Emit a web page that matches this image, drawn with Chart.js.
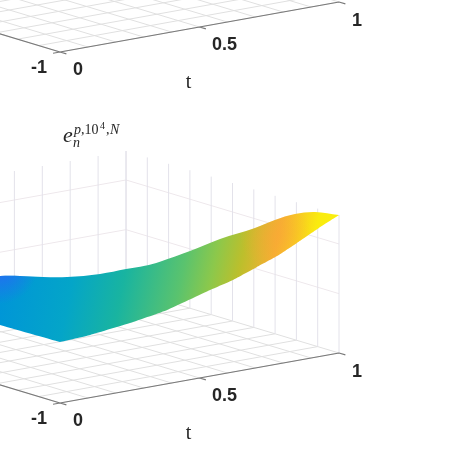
<!DOCTYPE html>
<html>
<head>
<meta charset="utf-8">
<style>
  html, body { margin: 0; padding: 0; background: #fff; }
  canvas { display: block; }
</style>
<script src="https://cdn.jsdelivr.net/npm/chart.js@4/dist/chart.umd.min.js"></script>
</head>
<body>
<canvas id="surfaceChart" width="474" height="474"></canvas>
<script>
// axis grids
const tGrid = [0, 0.1, 0.2, 0.3, 0.4, 0.5, 0.6, 0.7, 0.8, 0.9, 1];
const xGrid = [-1, -0.8, -0.6, -0.4, -0.2, 0, 0.2, 0.4, 0.6, 0.8, 1];
const zGrid = [0.43, 0.79];
const tTickValues = [0, 0.5, 1];
const tTickLabels = ['0', '0.5', '1'];
const xTickValues = [-1];
const xTickLabels = ['-1'];

// surface edges (z as a fraction of the box height)
const startX = [0.1, -0.437, -1];        // t = 0
const startZ = [0.44, 0.435, 0.442];
const frontT = [0, 0.108, 0.262, 0.384, 0.538, 0.62, 0.706, 0.778, 0.849, 0.928, 1]; // x = -1
const frontZ = [0.442, 0.454, 0.492, 0.535, 0.624, 0.667, 0.73, 0.783, 0.852, 0.932, 1];
const sideT = [0.4, 0.548, 0.62, 0.703, 0.789, 0.907, 1];   // x = 1
const sideZ = [0.3, 0.258, 0.232, 0.194, 0.163, 0.143, 0.145];
const endX = [1, 0.822, 0.681, 0.399, 0.117, -0.211, -0.399, -0.587, -0.775, -1];  // t = 1
const endZ = [0.145, 0.21, 0.272, 0.414, 0.567, 0.723, 0.825, 0.912, 0.97, 1];

const panelShift = -351; // upper panel sits above this one, only its floor shows

function project(t, x, z, shift) {
  const s = (x + 1) / 2;
  return {
    x: 60 + 279 * t - 213 * s,
    y: 403 + (shift || 0) - 50 * t - 64 * s - 138 * z
  };
}

function segments(pairs) {
  const out = [];
  pairs.forEach(p => {
    out.push(p[0], p[1], { x: NaN, y: NaN });
  });
  return out;
}

function floorLines(shift) {
  const pairs = [];
  tGrid.forEach(t => pairs.push([project(t, -1, 0, shift), project(t, 1, 0, shift)]));
  xGrid.forEach(x => pairs.push([project(0, x, 0, shift), project(1, x, 0, shift)]));
  return segments(pairs);
}

function wallVerticals() {
  const pairs = [];
  tGrid.forEach(t => pairs.push([project(t, 1, 0), project(t, 1, 1)]));
  xGrid.forEach(x => pairs.push([project(1, x, 0), project(1, x, 1)]));
  return segments(pairs);
}

function wallLevels() {
  const pairs = [];
  zGrid.forEach(z => {
    pairs.push([project(0, 1, z), project(1, 1, z)]);
    pairs.push([project(1, 1, z), project(1, -1, z)]);
  });
  return segments(pairs);
}

function axisLines(shift) {
  const pairs = [
    [project(0, -1, 0, shift), project(1, -1, 0, shift)],
    [project(0, -1, 0, shift), project(0, 1, 0, shift)]
  ];
  tTickValues.forEach(t => pairs.push([project(t, -1, 0, shift), project(t, -1.06, 0, shift)]));
  xTickValues.forEach(x => pairs.push([project(0, x, 0, shift), project(-0.025, x, 0, shift)]));
  return segments(pairs);
}

const lowerEdge = startX.map((x, i) => project(0, x, startZ[i]))
  .concat(frontT.map((t, i) => project(t, -1, frontZ[i])));
const upperEdge = sideT.map((t, i) => project(t, 1, sideZ[i]))
  .concat(endX.map((x, i) => project(1, x, endZ[i])));

const canvas = document.getElementById('surfaceChart');
const ctx = canvas.getContext('2d');

const surfaceFill = ctx.createLinearGradient(-20, 255, 345, 330);
surfaceFill.addColorStop(0, '#0a92dc');
surfaceFill.addColorStop(0.08, '#0096d7');
surfaceFill.addColorStop(0.257, '#04a5c8');
surfaceFill.addColorStop(0.392, '#19b4a0');
surfaceFill.addColorStop(0.542, '#5ac36e');
surfaceFill.addColorStop(0.62, '#8cc84b');
surfaceFill.addColorStop(0.69, '#bcbf2c');
surfaceFill.addColorStop(0.773, '#f5b032');
surfaceFill.addColorStop(0.87, '#faeb0f');
surfaceFill.addColorStop(1, '#fbf50a');

// orange patch on the right, blue rim at the far left
const glowFill = ctx.createRadialGradient(276, 236, 3, 276, 236, 36);
glowFill.addColorStop(0, 'rgba(252,165,55,0.5)');
glowFill.addColorStop(1, 'rgba(252,165,55,0)');

const rimFill = ctx.createRadialGradient(0, 266, 4, 0, 266, 38);
rimFill.addColorStop(0, 'rgba(40,105,245,0.9)');
rimFill.addColorStop(1, 'rgba(40,105,245,0)');

const labelPlugin = {
  id: 'labels',
  afterDraw(chart) {
    const c = chart.ctx;
    const sx = chart.scales.x;
    const sy = chart.scales.y;
    const text = (str, x, y, font, align) => {
      c.font = font;
      c.textAlign = align || 'center';
      c.textBaseline = 'alphabetic';
      c.fillStyle = '#262626';
      c.fillText(str, sx.getPixelForValue(x), sy.getPixelForValue(y));
    };
    const tickFont = 'bold 18px "Liberation Sans"';
    const serif = '"Liberation Serif"';
    [0, panelShift].forEach(shift => {
      tTickValues.forEach((t, i) => {
        const p = project(t, -1, 0, shift);
        const dx = t === 0.5 ? 25 : 18;
        const dy = t === 1 ? 24 : 23;
        text(tTickLabels[i], p.x + dx, p.y + dy, tickFont);
      });
      xTickValues.forEach((x, i) => {
        const p = project(0, x, 0, shift);
        text(xTickLabels[i], p.x - 21, p.y + 21, tickFont);
      });
      const mid = project(0.5, -1, 0, shift);
      text('t', mid.x - 11, mid.y + 61, '20px ' + serif);
    });
    text('e', 63, 142, 'italic 22px ' + serif, 'left');
    text('n', 73, 147, 'italic 14px ' + serif, 'left');
    text('p', 74, 134, 'italic 14px ' + serif, 'left');
    text(',10', 81, 134, '14px ' + serif, 'left');
    text('4', 100, 129, '10px ' + serif, 'left');
    text(',', 106, 134, '14px ' + serif, 'left');
    text('N', 110, 134, 'italic 14px ' + serif, 'left');
  }
};

const plainLine = { showLine: true, pointRadius: 0, fill: false, spanGaps: false, tension: 0 };
const upperStyle = { ...plainLine, data: upperEdge, borderWidth: 0, tension: 0.35, fill: '+1' };
const lowerStyle = { ...plainLine, data: lowerEdge, borderWidth: 0, tension: 0.12 };

new Chart(ctx, {
  type: 'scatter',
  data: {
    datasets: [
      { ...upperStyle, label: 'rim upper', backgroundColor: rimFill, order: 1 },
      { ...lowerStyle, label: 'rim lower', order: 1 },
      { ...upperStyle, label: 'glow upper', backgroundColor: glowFill, order: 1 },
      { ...lowerStyle, label: 'glow lower', order: 1 },
      { ...upperStyle, label: 'surface upper', backgroundColor: surfaceFill, order: 2 },
      { ...lowerStyle, label: 'surface lower', order: 2 },
      { ...plainLine, label: 'axes', data: axisLines(0), borderColor: '#7a7a7a', borderWidth: 1.2, order: 3 },
      { ...plainLine, label: 'axes upper', data: axisLines(panelShift), borderColor: '#7a7a7a', borderWidth: 1.2, order: 3 },
      { ...plainLine, label: 'wall verticals', data: wallVerticals(), borderColor: '#e3e2ea', borderWidth: 1, order: 4 },
      { ...plainLine, label: 'wall levels', data: wallLevels(), borderColor: '#eee8ec', borderWidth: 1, order: 4 },
      { ...plainLine, label: 'floor', data: floorLines(0), borderColor: '#e0e0e0', borderWidth: 1, order: 5 },
      { ...plainLine, label: 'floor upper', data: floorLines(panelShift), borderColor: '#e0e0e0', borderWidth: 1, order: 5 }
    ]
  },
  options: {
    responsive: false,
    animation: false,
    layout: { padding: 0 },
    plugins: { legend: { display: false }, tooltip: { enabled: false } },
    scales: {
      x: { type: 'linear', display: false, min: 0, max: 474 },
      y: { type: 'linear', display: false, min: 0, max: 474, reverse: true }
    }
  },
  plugins: [labelPlugin]
});
</script>
</body>
</html>
